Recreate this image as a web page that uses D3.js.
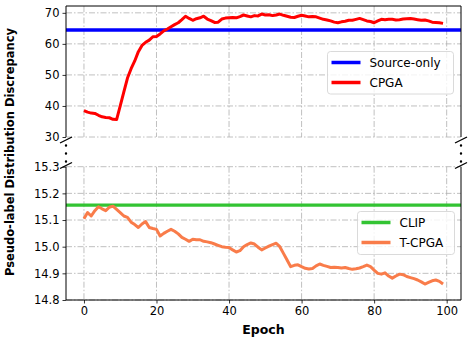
<!DOCTYPE html>
<html><head><meta charset="utf-8">
<script src="https://cdn.jsdelivr.net/npm/d3@7"></script>
<style>body{margin:0;background:#fff}svg{display:block;font-family:"DejaVu Sans",sans-serif}</style>
</head><body><svg id="c" width="474" height="341"></svg>
<script>
const epochs = d3.range(0, 100);
const xTicks = [0, 20, 40, 60, 80, 100];
const topTicks = [30, 40, 50, 60, 70];
const botTicks = [14.8, 14.9, 15.0, 15.1, 15.2, 15.3];
const sourceOnly = 64.5;
const clipValue = 15.156;
const cpga = [38.5,38.0,37.7,37.6,37.0,36.5,36.3,36.2,35.7,35.6,
40.0,44.5,49.0,52.0,54.5,57.5,59.5,60.5,61.2,62.3,
62.4,63.2,64.2,64.8,65.5,66.2,66.8,67.8,68.9,68.2,
67.6,68.1,68.4,68.9,68.0,67.5,66.9,67.0,68.0,68.3,
68.4,68.5,68.4,68.8,69.3,69.0,68.7,69.1,69.0,69.6,
69.3,69.4,69.1,69.3,69.6,69.2,68.9,68.6,68.5,68.9,
69.2,69.0,68.7,68.8,68.7,68.3,67.9,67.7,67.4,67.0,
66.8,67.1,67.3,67.6,67.6,67.9,68.2,67.8,67.4,67.2,
66.8,67.4,67.9,67.8,67.9,67.9,67.7,67.8,68.0,68.1,
68.2,68.0,67.8,67.6,67.7,67.4,67.0,66.9,66.8,66.6];
const tcpga = [15.105,15.128,15.115,15.135,15.150,15.142,15.135,15.148,15.152,15.140,
15.128,15.115,15.110,15.092,15.083,15.072,15.085,15.094,15.072,15.068,
15.065,15.040,15.050,15.058,15.065,15.058,15.048,15.035,15.028,15.020,
15.028,15.026,15.026,15.020,15.018,15.015,15.010,15.005,15.000,14.998,
14.997,14.988,14.980,14.985,15.000,15.008,15.014,15.010,14.998,14.988,
14.995,15.002,15.008,15.013,15.000,14.975,14.950,14.925,14.930,14.932,
14.925,14.919,14.916,14.918,14.928,14.935,14.930,14.926,14.922,14.923,
14.922,14.920,14.922,14.918,14.915,14.917,14.920,14.925,14.931,14.925,
14.912,14.900,14.897,14.902,14.890,14.882,14.890,14.897,14.895,14.888,
14.884,14.880,14.875,14.868,14.860,14.866,14.872,14.875,14.870,14.860];

const svg = d3.select("#c");
const L = 66, R = 461;
const x = d3.scaleLinear().domain([-4.95, 103.95]).range([L, R]);
const yT = d3.scaleLinear().domain([30, 72.2]).range([137, 6]);
const yB = d3.scaleLinear().domain([14.8, 15.3]).range([300, 166.7]);
const gridStyle = s => s.attr("stroke", "#b0b0b0").attr("stroke-width", 0.8).attr("stroke-dasharray", "6,2,1.5,2");

function panel(y, ticks, y0, y1, fmt) {
  const g = svg.append("g");
  g.selectAll(".gx").data(xTicks).join("line").attr("x1", d => x(d)).attr("x2", d => x(d))
    .attr("y1", y1).attr("y2", y0).call(gridStyle);
  g.selectAll(".gy").data(ticks).join("line").attr("x1", L).attr("x2", R)
    .attr("y1", d => y(d)).attr("y2", d => y(d)).call(gridStyle);
  const ax = d3.axisLeft(y).tickValues(ticks).tickFormat(fmt).tickSize(3.5).tickPadding(3);
  const a = svg.append("g").attr("transform", `translate(${L},0)`).call(ax);
  a.select(".domain").remove();
  a.selectAll("text").attr("font-size", 11.5).attr("fill", "#000").attr("font-family", "DejaVu Sans");
  a.selectAll("line").attr("stroke", "#000").attr("stroke-width", 0.8);
  return g;
}
panel(yT, topTicks, 137, 6, d3.format("d"));
panel(yB, botTicks, 300, 166.7, d3.format(".1f"));

const xa = svg.append("g").attr("transform", "translate(0,300)").call(d3.axisBottom(x).tickValues(xTicks).tickSize(3.5).tickPadding(3));
xa.select(".domain").remove();
xa.selectAll("text").attr("font-size", 11.5).attr("fill", "#000").attr("font-family", "DejaVu Sans");
xa.selectAll("line").attr("stroke", "#000").attr("stroke-width", 0.8);

const lineT = d3.line().x((d, i) => x(epochs[i])).y(d => yT(d));
const lineB = d3.line().x((d, i) => x(epochs[i])).y(d => yB(d));
svg.append("line").attr("x1", L).attr("x2", R).attr("y1", yT(sourceOnly)).attr("y2", yT(sourceOnly))
  .attr("stroke", "#0000ff").attr("stroke-width", 3.5);
svg.append("path").attr("d", lineT(cpga)).attr("fill", "none").attr("stroke", "#ff0000").attr("stroke-width", 3).attr("stroke-linejoin", "round");
svg.append("line").attr("x1", L).attr("x2", R).attr("y1", yB(clipValue)).attr("y2", yB(clipValue))
  .attr("stroke", "#33c433").attr("stroke-width", 3.2);
svg.append("path").attr("d", lineB(tcpga)).attr("fill", "none").attr("stroke", "#f97c4a").attr("stroke-width", 3).attr("stroke-linejoin", "round");

const sp = svg.append("g").attr("stroke", "#000").attr("stroke-width", 1).attr("fill", "none");
sp.append("path").attr("d", `M${L},137V6H${R}V137`);
sp.append("path").attr("d", `M${L},166.7V300H${R}V166.7`);
[L, R].forEach(xx => {
  sp.append("line").attr("x1", xx - 6).attr("y1", 143).attr("x2", xx + 6).attr("y2", 137).attr("stroke-width", 1.3);
  sp.append("line").attr("x1", xx - 6).attr("y1", 168.5).attr("x2", xx + 6).attr("y2", 162.5).attr("stroke-width", 1.3);
  sp.append("line").attr("x1", xx).attr("x2", xx).attr("y1", 145.5).attr("y2", 162)
    .attr("stroke-width", 2.4).attr("stroke-dasharray", "0,8").attr("stroke-linecap", "round");
});

function legend(x0, y0, w, h, items) {
  const g = svg.append("g");
  g.append("rect").attr("x", x0).attr("y", y0).attr("width", w).attr("height", h).attr("rx", 3)
    .attr("fill", "#fff").attr("fill-opacity", 0.8).attr("stroke", "#d0d0d0").attr("stroke-width", 0.8);
  items.forEach((it, i) => {
    const yy = y0 + 11 + i * 20;
    g.append("line").attr("x1", x0 + 4).attr("x2", x0 + 33).attr("y1", yy).attr("y2", yy)
      .attr("stroke", it.c).attr("stroke-width", 3.5);
    g.append("text").attr("x", x0 + 42).attr("y", yy + 4.5).attr("font-size", 12).text(it.n);
  });
}
legend(327.5, 51.5, 126, 42.5, [{n: "Source-only", c: "#0000ff"}, {n: "CPGA", c: "#ff0000"}]);
legend(357.5, 211.5, 97, 43, [{n: "CLIP", c: "#33c433"}, {n: "T-CPGA", c: "#f97c4a"}]);

svg.append("text").attr("x", x(49.5)).attr("y", 334).attr("text-anchor", "middle")
  .attr("font-weight", "bold").attr("font-size", 12.5).text("Epoch");
svg.append("text").attr("transform", "translate(14,152) rotate(-90)").attr("text-anchor", "middle")
  .attr("font-weight", "bold").attr("font-size", 11.5).text("Pseudo-label Distribution Discrepancy");
</script></body></html>
